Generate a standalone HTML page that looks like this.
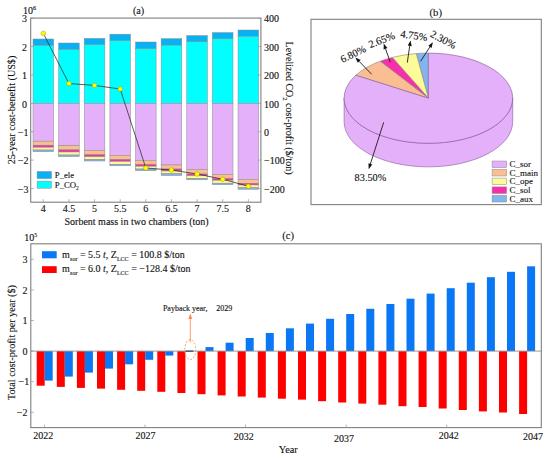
<!DOCTYPE html>
<html><head><meta charset="utf-8"><style>
html,body{margin:0;padding:0;background:#fff;width:550px;height:458px;overflow:hidden}
svg{display:block}
text{font-family:"Liberation Serif",serif;fill:#111;stroke:#111;stroke-width:0.12px}
</style></head><body>
<svg width="550" height="458" viewBox="0 0 550 458">
<rect width="550" height="458" fill="#fff"/>
<rect x="33.00" y="39.00" width="20.6" height="6.50" fill="#08B0F4" stroke="#8a8a8a" stroke-width="0.5"/>
<rect x="33.00" y="45.50" width="20.6" height="57.80" fill="#00FFFF" stroke="#8a8a8a" stroke-width="0.5"/>
<rect x="33.00" y="103.30" width="20.6" height="37.90" fill="#E3B0F9" stroke="#8a8a8a" stroke-width="0.5"/>
<rect x="33.00" y="141.20" width="20.6" height="4.00" fill="#F9BE92" stroke="#8a8a8a" stroke-width="0.5"/>
<rect x="33.00" y="145.20" width="20.6" height="2.10" fill="#F82EAC" stroke="#8a8a8a" stroke-width="0.5"/>
<rect x="33.00" y="147.30" width="20.6" height="2.70" fill="#FDFB99" stroke="#8a8a8a" stroke-width="0.5"/>
<rect x="33.00" y="150.00" width="20.6" height="1.70" fill="#82B4EE" stroke="#8a8a8a" stroke-width="0.5"/>
<rect x="58.63" y="43.00" width="20.6" height="6.50" fill="#08B0F4" stroke="#8a8a8a" stroke-width="0.5"/>
<rect x="58.63" y="49.50" width="20.6" height="53.80" fill="#00FFFF" stroke="#8a8a8a" stroke-width="0.5"/>
<rect x="58.63" y="103.30" width="20.6" height="42.40" fill="#E3B0F9" stroke="#8a8a8a" stroke-width="0.5"/>
<rect x="58.63" y="145.70" width="20.6" height="4.20" fill="#F9BE92" stroke="#8a8a8a" stroke-width="0.5"/>
<rect x="58.63" y="149.90" width="20.6" height="2.10" fill="#F82EAC" stroke="#8a8a8a" stroke-width="0.5"/>
<rect x="58.63" y="152.00" width="20.6" height="3.00" fill="#FDFB99" stroke="#8a8a8a" stroke-width="0.5"/>
<rect x="58.63" y="155.00" width="20.6" height="1.60" fill="#82B4EE" stroke="#8a8a8a" stroke-width="0.5"/>
<rect x="84.26" y="38.40" width="20.6" height="6.30" fill="#08B0F4" stroke="#8a8a8a" stroke-width="0.5"/>
<rect x="84.26" y="44.70" width="20.6" height="58.60" fill="#00FFFF" stroke="#8a8a8a" stroke-width="0.5"/>
<rect x="84.26" y="103.30" width="20.6" height="47.00" fill="#E3B0F9" stroke="#8a8a8a" stroke-width="0.5"/>
<rect x="84.26" y="150.30" width="20.6" height="4.50" fill="#F9BE92" stroke="#8a8a8a" stroke-width="0.5"/>
<rect x="84.26" y="154.80" width="20.6" height="2.00" fill="#F82EAC" stroke="#8a8a8a" stroke-width="0.5"/>
<rect x="84.26" y="156.80" width="20.6" height="2.70" fill="#FDFB99" stroke="#8a8a8a" stroke-width="0.5"/>
<rect x="84.26" y="159.50" width="20.6" height="1.50" fill="#82B4EE" stroke="#8a8a8a" stroke-width="0.5"/>
<rect x="109.89" y="34.20" width="20.6" height="6.50" fill="#08B0F4" stroke="#8a8a8a" stroke-width="0.5"/>
<rect x="109.89" y="40.70" width="20.6" height="62.60" fill="#00FFFF" stroke="#8a8a8a" stroke-width="0.5"/>
<rect x="109.89" y="103.30" width="20.6" height="52.00" fill="#E3B0F9" stroke="#8a8a8a" stroke-width="0.5"/>
<rect x="109.89" y="155.30" width="20.6" height="4.30" fill="#F9BE92" stroke="#8a8a8a" stroke-width="0.5"/>
<rect x="109.89" y="159.60" width="20.6" height="1.90" fill="#F82EAC" stroke="#8a8a8a" stroke-width="0.5"/>
<rect x="109.89" y="161.50" width="20.6" height="2.80" fill="#FDFB99" stroke="#8a8a8a" stroke-width="0.5"/>
<rect x="109.89" y="164.30" width="20.6" height="1.50" fill="#82B4EE" stroke="#8a8a8a" stroke-width="0.5"/>
<rect x="135.52" y="42.00" width="20.6" height="6.70" fill="#08B0F4" stroke="#8a8a8a" stroke-width="0.5"/>
<rect x="135.52" y="48.70" width="20.6" height="54.60" fill="#00FFFF" stroke="#8a8a8a" stroke-width="0.5"/>
<rect x="135.52" y="103.30" width="20.6" height="57.00" fill="#E3B0F9" stroke="#8a8a8a" stroke-width="0.5"/>
<rect x="135.52" y="160.30" width="20.6" height="4.20" fill="#F9BE92" stroke="#8a8a8a" stroke-width="0.5"/>
<rect x="135.52" y="164.50" width="20.6" height="1.80" fill="#F82EAC" stroke="#8a8a8a" stroke-width="0.5"/>
<rect x="135.52" y="166.30" width="20.6" height="2.70" fill="#FDFB99" stroke="#8a8a8a" stroke-width="0.5"/>
<rect x="135.52" y="169.00" width="20.6" height="1.70" fill="#82B4EE" stroke="#8a8a8a" stroke-width="0.5"/>
<rect x="161.15" y="38.70" width="20.6" height="6.50" fill="#08B0F4" stroke="#8a8a8a" stroke-width="0.5"/>
<rect x="161.15" y="45.20" width="20.6" height="58.10" fill="#00FFFF" stroke="#8a8a8a" stroke-width="0.5"/>
<rect x="161.15" y="103.30" width="20.6" height="61.70" fill="#E3B0F9" stroke="#8a8a8a" stroke-width="0.5"/>
<rect x="161.15" y="165.00" width="20.6" height="4.00" fill="#F9BE92" stroke="#8a8a8a" stroke-width="0.5"/>
<rect x="161.15" y="169.00" width="20.6" height="2.00" fill="#F82EAC" stroke="#8a8a8a" stroke-width="0.5"/>
<rect x="161.15" y="171.00" width="20.6" height="2.80" fill="#FDFB99" stroke="#8a8a8a" stroke-width="0.5"/>
<rect x="161.15" y="173.80" width="20.6" height="1.70" fill="#82B4EE" stroke="#8a8a8a" stroke-width="0.5"/>
<rect x="186.78" y="35.60" width="20.6" height="6.20" fill="#08B0F4" stroke="#8a8a8a" stroke-width="0.5"/>
<rect x="186.78" y="41.80" width="20.6" height="61.50" fill="#00FFFF" stroke="#8a8a8a" stroke-width="0.5"/>
<rect x="186.78" y="103.30" width="20.6" height="66.20" fill="#E3B0F9" stroke="#8a8a8a" stroke-width="0.5"/>
<rect x="186.78" y="169.50" width="20.6" height="4.50" fill="#F9BE92" stroke="#8a8a8a" stroke-width="0.5"/>
<rect x="186.78" y="174.00" width="20.6" height="1.80" fill="#F82EAC" stroke="#8a8a8a" stroke-width="0.5"/>
<rect x="186.78" y="175.80" width="20.6" height="2.90" fill="#FDFB99" stroke="#8a8a8a" stroke-width="0.5"/>
<rect x="186.78" y="178.70" width="20.6" height="1.10" fill="#82B4EE" stroke="#8a8a8a" stroke-width="0.5"/>
<rect x="212.41" y="32.60" width="20.6" height="6.20" fill="#08B0F4" stroke="#8a8a8a" stroke-width="0.5"/>
<rect x="212.41" y="38.80" width="20.6" height="64.50" fill="#00FFFF" stroke="#8a8a8a" stroke-width="0.5"/>
<rect x="212.41" y="103.30" width="20.6" height="71.20" fill="#E3B0F9" stroke="#8a8a8a" stroke-width="0.5"/>
<rect x="212.41" y="174.50" width="20.6" height="4.00" fill="#F9BE92" stroke="#8a8a8a" stroke-width="0.5"/>
<rect x="212.41" y="178.50" width="20.6" height="1.80" fill="#F82EAC" stroke="#8a8a8a" stroke-width="0.5"/>
<rect x="212.41" y="180.30" width="20.6" height="2.90" fill="#FDFB99" stroke="#8a8a8a" stroke-width="0.5"/>
<rect x="212.41" y="183.20" width="20.6" height="1.50" fill="#82B4EE" stroke="#8a8a8a" stroke-width="0.5"/>
<rect x="238.04" y="30.00" width="20.6" height="6.40" fill="#08B0F4" stroke="#8a8a8a" stroke-width="0.5"/>
<rect x="238.04" y="36.40" width="20.6" height="66.90" fill="#00FFFF" stroke="#8a8a8a" stroke-width="0.5"/>
<rect x="238.04" y="103.30" width="20.6" height="76.00" fill="#E3B0F9" stroke="#8a8a8a" stroke-width="0.5"/>
<rect x="238.04" y="179.30" width="20.6" height="4.00" fill="#F9BE92" stroke="#8a8a8a" stroke-width="0.5"/>
<rect x="238.04" y="183.30" width="20.6" height="1.70" fill="#F82EAC" stroke="#8a8a8a" stroke-width="0.5"/>
<rect x="238.04" y="185.00" width="20.6" height="2.80" fill="#FDFB99" stroke="#8a8a8a" stroke-width="0.5"/>
<rect x="238.04" y="187.80" width="20.6" height="1.50" fill="#82B4EE" stroke="#8a8a8a" stroke-width="0.5"/>
<rect x="30.7" y="18.1" width="230.20" height="184.10" fill="none" stroke="#7f7f7f" stroke-width="1.1"/>
<line x1="30.7" y1="18.10" x2="33.7" y2="18.10" stroke="#999" stroke-width="0.75"/>
<line x1="257.9" y1="18.10" x2="260.9" y2="18.10" stroke="#999" stroke-width="0.75"/>
<text x="26.90" y="22.40" font-size="10" text-anchor="end" >3</text>
<text x="264.10" y="22.30" font-size="10" text-anchor="start" >400</text>
<line x1="30.7" y1="46.50" x2="33.7" y2="46.50" stroke="#999" stroke-width="0.75"/>
<line x1="257.9" y1="46.50" x2="260.9" y2="46.50" stroke="#999" stroke-width="0.75"/>
<text x="26.90" y="50.80" font-size="10" text-anchor="end" >2</text>
<text x="264.10" y="50.70" font-size="10" text-anchor="start" >300</text>
<line x1="30.7" y1="74.90" x2="33.7" y2="74.90" stroke="#999" stroke-width="0.75"/>
<line x1="257.9" y1="74.90" x2="260.9" y2="74.90" stroke="#999" stroke-width="0.75"/>
<text x="26.90" y="79.20" font-size="10" text-anchor="end" >1</text>
<text x="264.10" y="79.10" font-size="10" text-anchor="start" >200</text>
<line x1="30.7" y1="103.30" x2="33.7" y2="103.30" stroke="#999" stroke-width="0.75"/>
<line x1="257.9" y1="103.30" x2="260.9" y2="103.30" stroke="#999" stroke-width="0.75"/>
<text x="26.90" y="107.60" font-size="10" text-anchor="end" >0</text>
<text x="264.10" y="107.50" font-size="10" text-anchor="start" >100</text>
<line x1="30.7" y1="131.70" x2="33.7" y2="131.70" stroke="#999" stroke-width="0.75"/>
<line x1="257.9" y1="131.70" x2="260.9" y2="131.70" stroke="#999" stroke-width="0.75"/>
<text x="28.50" y="136.00" font-size="10" text-anchor="end" >&#8722;1</text>
<text x="264.10" y="135.90" font-size="10" text-anchor="start" >0</text>
<line x1="30.7" y1="160.10" x2="33.7" y2="160.10" stroke="#999" stroke-width="0.75"/>
<line x1="257.9" y1="160.10" x2="260.9" y2="160.10" stroke="#999" stroke-width="0.75"/>
<text x="28.50" y="164.40" font-size="10" text-anchor="end" >&#8722;2</text>
<text x="264.10" y="164.30" font-size="10" text-anchor="start" >&#8722;100</text>
<line x1="30.7" y1="188.50" x2="33.7" y2="188.50" stroke="#999" stroke-width="0.75"/>
<line x1="257.9" y1="188.50" x2="260.9" y2="188.50" stroke="#999" stroke-width="0.75"/>
<text x="28.50" y="192.80" font-size="10" text-anchor="end" >&#8722;3</text>
<text x="264.10" y="192.70" font-size="10" text-anchor="start" >&#8722;200</text>
<line x1="43.30" y1="202.2" x2="43.30" y2="199.2" stroke="#999" stroke-width="0.75"/>
<text x="43.30" y="212.10" font-size="10" text-anchor="middle" >4</text>
<line x1="68.93" y1="202.2" x2="68.93" y2="199.2" stroke="#999" stroke-width="0.75"/>
<text x="68.93" y="212.10" font-size="10" text-anchor="middle" >4.5</text>
<line x1="94.56" y1="202.2" x2="94.56" y2="199.2" stroke="#999" stroke-width="0.75"/>
<text x="94.56" y="212.10" font-size="10" text-anchor="middle" >5</text>
<line x1="120.19" y1="202.2" x2="120.19" y2="199.2" stroke="#999" stroke-width="0.75"/>
<text x="120.19" y="212.10" font-size="10" text-anchor="middle" >5.5</text>
<line x1="145.82" y1="202.2" x2="145.82" y2="199.2" stroke="#999" stroke-width="0.75"/>
<text x="145.82" y="212.10" font-size="10" text-anchor="middle" >6</text>
<line x1="171.45" y1="202.2" x2="171.45" y2="199.2" stroke="#999" stroke-width="0.75"/>
<text x="171.45" y="212.10" font-size="10" text-anchor="middle" >6.5</text>
<line x1="197.08" y1="202.2" x2="197.08" y2="199.2" stroke="#999" stroke-width="0.75"/>
<text x="197.08" y="212.10" font-size="10" text-anchor="middle" >7</text>
<line x1="222.71" y1="202.2" x2="222.71" y2="199.2" stroke="#999" stroke-width="0.75"/>
<text x="222.71" y="212.10" font-size="10" text-anchor="middle" >7.5</text>
<line x1="248.34" y1="202.2" x2="248.34" y2="199.2" stroke="#999" stroke-width="0.75"/>
<text x="248.34" y="212.10" font-size="10" text-anchor="middle" >8</text>
<polyline points="43.30,33.40 68.93,83.50 94.56,85.40 120.19,89.00 145.82,168.00 171.45,170.00 197.08,174.00 222.71,179.20 248.34,186.30" fill="none" stroke="#333" stroke-width="0.8"/>
<ellipse cx="43.30" cy="33.40" rx="2.35" ry="2.25" fill="#FFFF00" stroke="#A0A000" stroke-width="0.5"/>
<ellipse cx="68.93" cy="83.50" rx="2.35" ry="2.25" fill="#FFFF00" stroke="#A0A000" stroke-width="0.5"/>
<ellipse cx="94.56" cy="85.40" rx="2.35" ry="2.25" fill="#FFFF00" stroke="#A0A000" stroke-width="0.5"/>
<ellipse cx="120.19" cy="89.00" rx="2.35" ry="2.25" fill="#FFFF00" stroke="#A0A000" stroke-width="0.5"/>
<ellipse cx="145.82" cy="168.00" rx="2.35" ry="2.25" fill="#FFFF00" stroke="#A0A000" stroke-width="0.5"/>
<ellipse cx="171.45" cy="170.00" rx="2.35" ry="2.25" fill="#FFFF00" stroke="#A0A000" stroke-width="0.5"/>
<ellipse cx="197.08" cy="174.00" rx="2.35" ry="2.25" fill="#FFFF00" stroke="#A0A000" stroke-width="0.5"/>
<ellipse cx="222.71" cy="179.20" rx="2.35" ry="2.25" fill="#FFFF00" stroke="#A0A000" stroke-width="0.5"/>
<ellipse cx="248.34" cy="186.30" rx="2.35" ry="2.25" fill="#FFFF00" stroke="#A0A000" stroke-width="0.5"/>
<text x="23.00" y="13.60" font-size="10" text-anchor="start" >10<tspan font-size="6" dy="-3.5">6</tspan></text>
<text x="132.90" y="14.00" font-size="10.2" text-anchor="start" >(a)</text>
<text transform="translate(15.1,110) rotate(-90)" font-size="10.15" text-anchor="middle">25-year cost-benefit (US$)</text>
<text transform="translate(286.0,108) rotate(90)" font-size="10" text-anchor="middle">Levelized CO<tspan font-size="6.5" dy="3">2</tspan><tspan dy="-3"> cost-profit ($/ton)</tspan></text>
<text x="136.60" y="224.60" font-size="10" text-anchor="middle" >Sorbent mass in two chambers (ton)</text>
<rect x="37.1" y="171.5" width="14.4" height="7.1" fill="#08B0F4" stroke="#8a8a8a" stroke-width="0.5"/>
<rect x="37.1" y="181.1" width="14.4" height="7.1" fill="#00FFFF" stroke="#8a8a8a" stroke-width="0.5"/>
<text x="54.80" y="178.00" font-size="8.7" text-anchor="start" >P_ele</text>
<text x="54.80" y="187.60" font-size="8.7" text-anchor="start" >P_CO<tspan font-size="5.5" dy="2">2</tspan></text>
<rect x="311" y="19.3" width="230.3" height="185.3" fill="none" stroke="#7f7f7f" stroke-width="1.1"/>
<text x="429.60" y="16.20" font-size="10.6" text-anchor="start" >(b)</text>
<path d="M344.10,98.20 L344.10,121.80 A84.3,45.1 0 0 0 512.70,121.80 L512.70,98.20 A84.3,45.1 0 0 1 344.10,98.20 Z" fill="#E3B0F9" stroke="#8a5a9a" stroke-width="0.6"/>
<path d="M428.40,98.20 L428.40,53.10 A84.3,45.1 0 0 0 416.26,53.57 Z" fill="#82B4EE" stroke="#8f8a88" stroke-width="0.65"/>
<path d="M428.40,98.20 L416.26,53.57 A84.3,45.1 0 0 0 392.27,57.45 Z" fill="#FDFB99" stroke="#8f8a88" stroke-width="0.65"/>
<path d="M428.40,98.20 L392.27,57.45 A84.3,45.1 0 0 0 380.14,61.22 Z" fill="#F82EAC" stroke="#8f8a88" stroke-width="0.65"/>
<path d="M428.40,98.20 L380.14,61.22 A84.3,45.1 0 0 0 355.84,75.24 Z" fill="#F9BE92" stroke="#8f8a88" stroke-width="0.65"/>
<path d="M428.40,98.20 L355.84,75.24 A84.3,45.1 0 1 0 428.40,53.10 Z" fill="#E3B0F9" stroke="#8a5a9a" stroke-width="0.65"/>
<line x1="371.70" y1="74.30" x2="359.23" y2="61.45" stroke="#111" stroke-width="0.85"/>
<path d="M355.40,57.50 L360.67,60.05 L357.79,62.84 Z" fill="#111"/>
<line x1="390.30" y1="62.30" x2="385.53" y2="48.79" stroke="#111" stroke-width="0.85"/>
<path d="M383.70,43.60 L387.42,48.12 L383.64,49.45 Z" fill="#111"/>
<line x1="407.30" y1="62.60" x2="409.72" y2="45.84" stroke="#111" stroke-width="0.85"/>
<path d="M410.50,40.40 L411.69,46.13 L407.74,45.56 Z" fill="#111"/>
<line x1="420.50" y1="61.40" x2="429.91" y2="46.91" stroke="#111" stroke-width="0.85"/>
<path d="M432.90,42.30 L431.58,48.00 L428.23,45.82 Z" fill="#111"/>
<line x1="383.70" y1="122.30" x2="370.38" y2="163.96" stroke="#111" stroke-width="0.85"/>
<path d="M368.70,169.20 L368.47,163.35 L372.28,164.57 Z" fill="#111"/>
<text transform="translate(342.6,63.0) rotate(-26)" font-size="10.4">6.80%</text>
<text transform="translate(370.2,48.2) rotate(-21)" font-size="10.6">2.65%</text>
<text transform="translate(400.0,37.2) rotate(8)" font-size="10.6">4.75%</text>
<text transform="translate(429.6,36.3) rotate(28)" font-size="10.6">2.30%</text>
<text x="354.60" y="180.70" font-size="10.3" text-anchor="start" >83.50%</text>
<rect x="492.1" y="161" width="14.5" height="6.6" fill="#E3B0F9" stroke="#8a8a8a" stroke-width="0.5"/>
<text x="509.60" y="167.30" font-size="9" text-anchor="start" >C_sor</text>
<rect x="492.1" y="169.4" width="14.5" height="6.6" fill="#F9BE92" stroke="#8a8a8a" stroke-width="0.5"/>
<text x="509.60" y="175.70" font-size="9" text-anchor="start" >C_main</text>
<rect x="492.1" y="178.1" width="14.5" height="6.6" fill="#FDFB99" stroke="#8a8a8a" stroke-width="0.5"/>
<text x="509.60" y="184.40" font-size="9" text-anchor="start" >C_ope</text>
<rect x="492.1" y="186.9" width="14.5" height="6.6" fill="#F82EAC" stroke="#8a8a8a" stroke-width="0.5"/>
<text x="509.60" y="193.20" font-size="9" text-anchor="start" >C_sol</text>
<rect x="492.1" y="195.4" width="14.5" height="6.6" fill="#82B4EE" stroke="#8a8a8a" stroke-width="0.5"/>
<text x="509.60" y="201.70" font-size="9" text-anchor="start" >C_aux</text>
<rect x="36.70" y="351.10" width="8" height="34.60" fill="#FF0000"/>
<rect x="44.70" y="351.10" width="8" height="29.50" fill="#0A78F5"/>
<rect x="56.80" y="351.10" width="8" height="35.80" fill="#FF0000"/>
<rect x="64.80" y="351.10" width="8" height="25.50" fill="#0A78F5"/>
<rect x="76.90" y="351.10" width="8" height="36.80" fill="#FF0000"/>
<rect x="84.90" y="351.10" width="8" height="21.50" fill="#0A78F5"/>
<rect x="97.00" y="351.10" width="8" height="37.50" fill="#FF0000"/>
<rect x="105.00" y="351.10" width="8" height="17.50" fill="#0A78F5"/>
<rect x="117.10" y="351.10" width="8" height="38.70" fill="#FF0000"/>
<rect x="125.10" y="351.10" width="8" height="13.20" fill="#0A78F5"/>
<rect x="137.20" y="351.10" width="8" height="39.70" fill="#FF0000"/>
<rect x="145.20" y="351.10" width="8" height="8.70" fill="#0A78F5"/>
<rect x="157.30" y="351.10" width="8" height="40.70" fill="#FF0000"/>
<rect x="165.30" y="351.10" width="8" height="4.50" fill="#0A78F5"/>
<rect x="177.40" y="351.10" width="8" height="41.90" fill="#FF0000"/>
<rect x="197.50" y="351.10" width="8" height="43.10" fill="#FF0000"/>
<rect x="205.50" y="347.10" width="8" height="4.00" fill="#0A78F5"/>
<rect x="217.60" y="351.10" width="8" height="44.30" fill="#FF0000"/>
<rect x="225.60" y="342.70" width="8" height="8.40" fill="#0A78F5"/>
<rect x="237.70" y="351.10" width="8" height="45.40" fill="#FF0000"/>
<rect x="245.70" y="338.00" width="8" height="13.10" fill="#0A78F5"/>
<rect x="257.80" y="351.10" width="8" height="46.50" fill="#FF0000"/>
<rect x="265.80" y="333.00" width="8" height="18.10" fill="#0A78F5"/>
<rect x="277.90" y="351.10" width="8" height="47.60" fill="#FF0000"/>
<rect x="285.90" y="328.30" width="8" height="22.80" fill="#0A78F5"/>
<rect x="298.00" y="351.10" width="8" height="48.50" fill="#FF0000"/>
<rect x="306.00" y="323.60" width="8" height="27.50" fill="#0A78F5"/>
<rect x="318.10" y="351.10" width="8" height="50.10" fill="#FF0000"/>
<rect x="326.10" y="318.80" width="8" height="32.30" fill="#0A78F5"/>
<rect x="338.20" y="351.10" width="8" height="51.40" fill="#FF0000"/>
<rect x="346.20" y="314.00" width="8" height="37.10" fill="#0A78F5"/>
<rect x="358.30" y="351.10" width="8" height="52.50" fill="#FF0000"/>
<rect x="366.30" y="308.80" width="8" height="42.30" fill="#0A78F5"/>
<rect x="378.40" y="351.10" width="8" height="53.60" fill="#FF0000"/>
<rect x="386.40" y="304.00" width="8" height="47.10" fill="#0A78F5"/>
<rect x="398.50" y="351.10" width="8" height="55.10" fill="#FF0000"/>
<rect x="406.50" y="298.70" width="8" height="52.40" fill="#0A78F5"/>
<rect x="418.60" y="351.10" width="8" height="55.90" fill="#FF0000"/>
<rect x="426.60" y="293.60" width="8" height="57.50" fill="#0A78F5"/>
<rect x="438.70" y="351.10" width="8" height="57.40" fill="#FF0000"/>
<rect x="446.70" y="288.20" width="8" height="62.90" fill="#0A78F5"/>
<rect x="458.80" y="351.10" width="8" height="58.90" fill="#FF0000"/>
<rect x="466.80" y="282.70" width="8" height="68.40" fill="#0A78F5"/>
<rect x="478.90" y="351.10" width="8" height="60.30" fill="#FF0000"/>
<rect x="486.90" y="277.20" width="8" height="73.90" fill="#0A78F5"/>
<rect x="499.00" y="351.10" width="8" height="61.40" fill="#FF0000"/>
<rect x="507.00" y="271.80" width="8" height="79.30" fill="#0A78F5"/>
<rect x="519.10" y="351.10" width="8" height="62.90" fill="#FF0000"/>
<rect x="527.10" y="266.30" width="8" height="84.80" fill="#0A78F5"/>
<line x1="30.8" y1="351.1" x2="541.3" y2="351.1" stroke="#909090" stroke-width="0.9"/>
<rect x="30.8" y="243.8" width="510.50" height="183.80" fill="none" stroke="#7f7f7f" stroke-width="1.1"/>
<line x1="30.8" y1="259.30" x2="33.8" y2="259.30" stroke="#999" stroke-width="0.75"/>
<text x="27.50" y="263.10" font-size="10" text-anchor="end" >3</text>
<line x1="30.8" y1="289.90" x2="33.8" y2="289.90" stroke="#999" stroke-width="0.75"/>
<text x="27.50" y="293.70" font-size="10" text-anchor="end" >2</text>
<line x1="30.8" y1="320.50" x2="33.8" y2="320.50" stroke="#999" stroke-width="0.75"/>
<text x="27.50" y="324.30" font-size="10" text-anchor="end" >1</text>
<line x1="30.8" y1="351.10" x2="33.8" y2="351.10" stroke="#999" stroke-width="0.75"/>
<text x="27.50" y="354.90" font-size="10" text-anchor="end" >0</text>
<line x1="30.8" y1="381.70" x2="33.8" y2="381.70" stroke="#999" stroke-width="0.75"/>
<text x="29.20" y="385.00" font-size="10" text-anchor="end" >&#8722;1</text>
<line x1="30.8" y1="412.30" x2="33.8" y2="412.30" stroke="#999" stroke-width="0.75"/>
<text x="27.50" y="415.60" font-size="10" text-anchor="end" >&#8722;2</text>
<line x1="44.5" y1="427.6" x2="44.5" y2="424.6" stroke="#999" stroke-width="0.75"/>
<text x="43.20" y="439.00" font-size="10" text-anchor="middle" >2022</text>
<line x1="145" y1="427.6" x2="145" y2="424.6" stroke="#999" stroke-width="0.75"/>
<text x="145.45" y="438.90" font-size="10" text-anchor="middle" >2027</text>
<line x1="245.5" y1="427.6" x2="245.5" y2="424.6" stroke="#999" stroke-width="0.75"/>
<text x="243.65" y="440.30" font-size="10" text-anchor="middle" >2032</text>
<line x1="346.2" y1="427.6" x2="346.2" y2="424.6" stroke="#999" stroke-width="0.75"/>
<text x="344.05" y="441.70" font-size="10" text-anchor="middle" >2037</text>
<line x1="446.6" y1="427.6" x2="446.6" y2="424.6" stroke="#999" stroke-width="0.75"/>
<text x="448.65" y="439.20" font-size="10" text-anchor="middle" >2042</text>
<text x="533.10" y="440.30" font-size="10" text-anchor="middle" >2047</text>
<text x="24.30" y="240.80" font-size="10" text-anchor="start" >10<tspan font-size="6" dy="-3.5">5</tspan></text>
<text x="282.20" y="239.20" font-size="10.6" text-anchor="start" >(c)</text>
<text x="278.80" y="452.80" font-size="10.3" text-anchor="start" >Year</text>
<text transform="translate(15.0,342.6) rotate(-90)" font-size="10.1" text-anchor="middle">Total cost-profit per year ($)</text>
<rect x="42" y="251.2" width="14.7" height="7.1" fill="#0A78F5"/>
<rect x="42" y="266.2" width="14.7" height="6.8" fill="#FF0000"/>
<text x="62" y="257.8" font-size="10">m<tspan font-size="6" dx="0.3" dy="3">sor</tspan><tspan dy="-3"> = 5.5 </tspan><tspan font-style="italic">t</tspan>, Z<tspan font-size="6" dy="3">LCC</tspan><tspan dy="-3"> = 100.8 $/ton</tspan></text>
<text x="62" y="272.1" font-size="10">m<tspan font-size="6" dx="0.3" dy="3">sor</tspan><tspan dy="-3"> = 6.0 </tspan><tspan font-style="italic">t</tspan>, Z<tspan font-size="6" dy="3">LCC</tspan><tspan dy="-3"> = &#8722;128.4 $/ton</tspan></text>
<ellipse cx="190.2" cy="349.6" rx="5.5" ry="10" fill="none" stroke="#FA8A48" stroke-width="0.8" stroke-dasharray="2,1.5"/>
<line x1="190.30" y1="342.50" x2="190.30" y2="319.10" stroke="#FA8A48" stroke-width="0.85"/>
<path d="M190.30,313.60 L192.20,319.10 L188.40,319.10 Z" fill="#FA8A48"/>
<rect x="185.4" y="350.5" width="8" height="1.3" fill="#2d4a7a"/>
<text x="162.90" y="310.60" font-size="8" text-anchor="start" >Payback year,</text>
<text x="216.30" y="310.60" font-size="8" text-anchor="start" >2029</text>
</svg></body></html>
